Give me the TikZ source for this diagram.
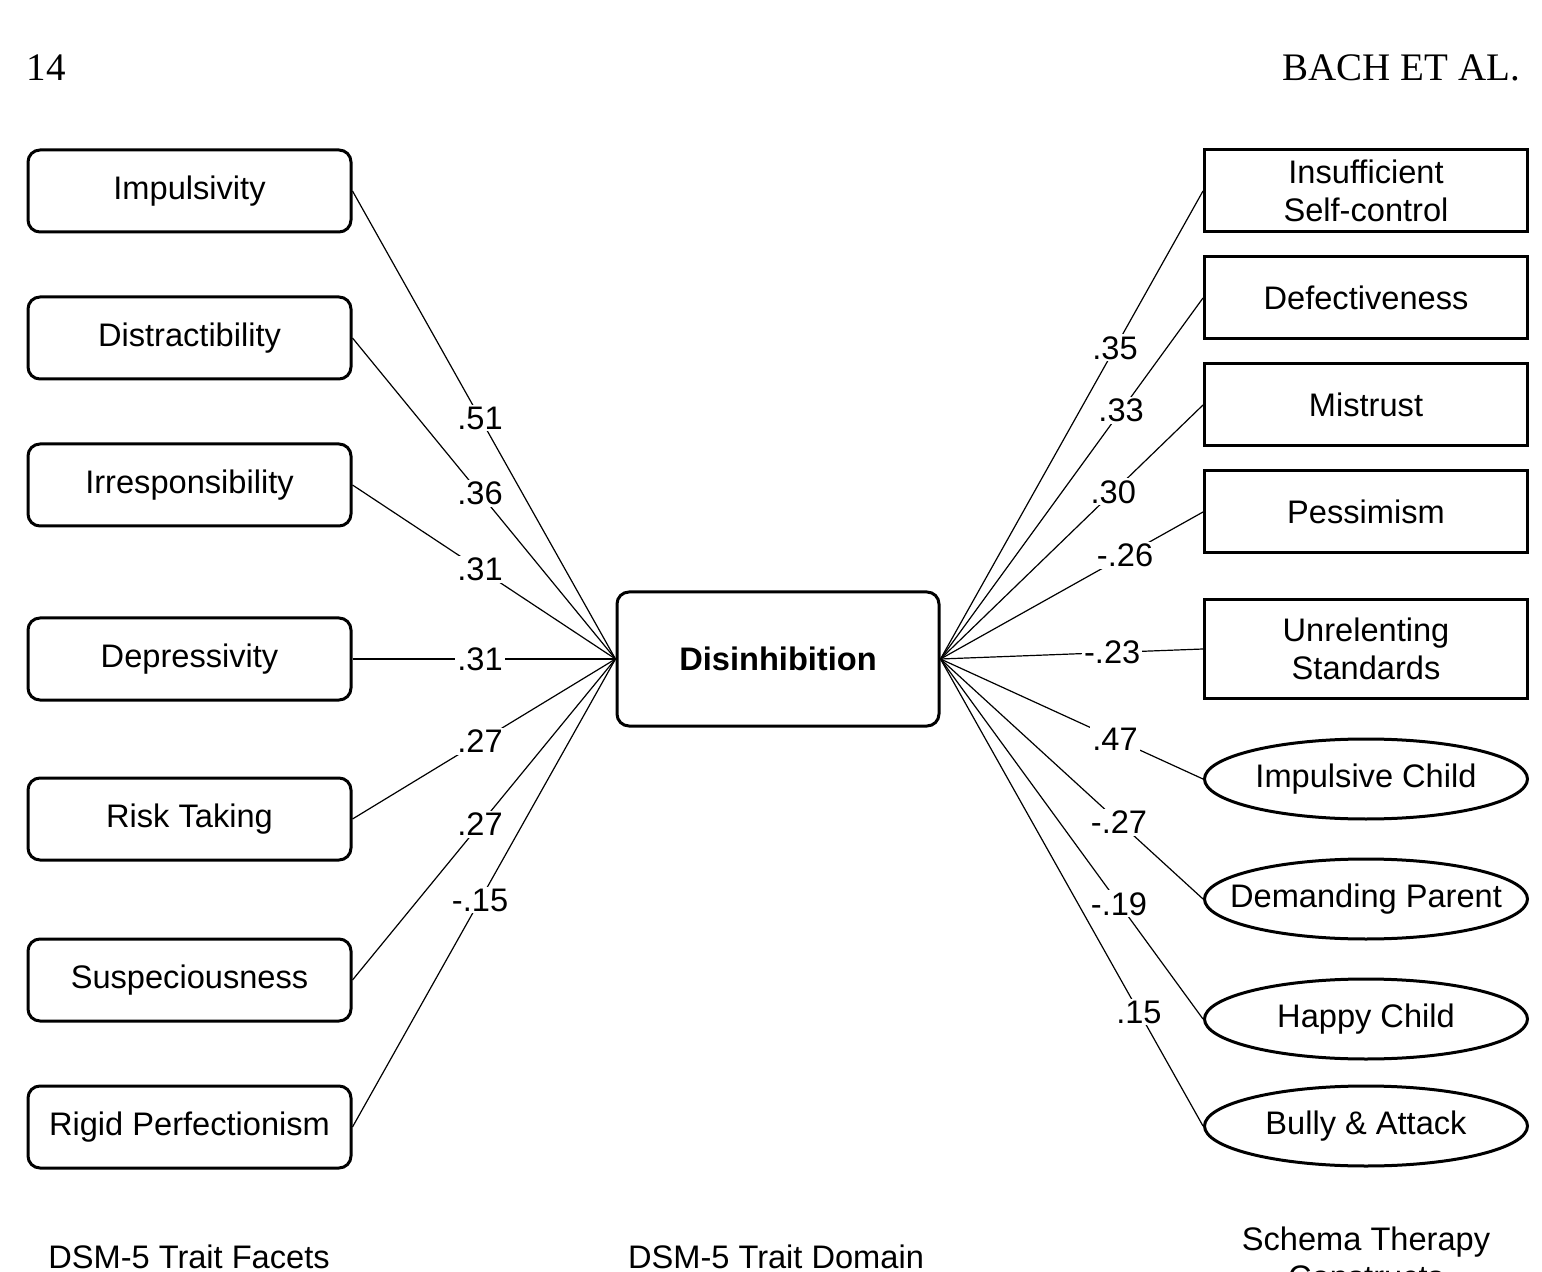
\documentclass[tikz,border=0pt]{standalone}
\usepackage{fontspec}
\setmainfont{Liberation Sans}
\newfontfamily\hdr{Liberation Serif}
\usetikzlibrary{shapes.geometric}
\begin{document}
\begin{tikzpicture}[x=0.5pt,y=-0.5pt,
  font=\fontsize{16.3}{19}\selectfont,
  lbox/.style={draw,line width=1.5pt,rounded corners=6pt,minimum width=161.5pt,minimum height=41pt,align=center,inner sep=0pt},
  rbox/.style={draw,line width=1.5pt,minimum width=161.5pt,minimum height=41pt,align=center,inner sep=0pt},
  ell/.style={draw,line width=1.5pt,ellipse,minimum width=161.5pt,minimum height=40pt,inner xsep=-16pt,inner ysep=0pt},
  ln/.style={line width=0.6pt},
  lab/.style={fill=white,inner sep=1pt},
  head/.style={font=\hdr\fontsize{19.5}{22}\selectfont}]
\useasboundingbox (0,0) rectangle (1542,1272);
\node[head] (pg) at (46,68) {14};
\node[head,anchor=east] (au) at (1527,68) {BACH ET AL.};

\node[lbox] (l1) at (189.5,191) {Impulsivity};
\node[lbox] (l2) at (189.5,338) {Distractibility};
\node[lbox] (l3) at (189.5,485) {Irresponsibility};
\node[lbox] (l4) at (189.5,659) {Depressivity};
\node[lbox] (l5) at (189.5,819) {Risk Taking};
\node[lbox] (l6) at (189.5,980) {Suspeciousness};
\node[lbox] (l7) at (189.5,1127) {Rigid Perfectionism};

\node[lbox,minimum width=161pt,minimum height=67pt] (c) at (778,659) {\bfseries Disinhibition};

\node[rbox] (r1) at (1366,191) {Insufficient\\Self-control};
\node[rbox] (r2) at (1366,298) {Defectiveness};
\node[rbox] (r3) at (1366,405) {Mistrust};
\node[rbox] (r4) at (1366,512) {Pessimism};
\node[rbox,minimum height=49.5pt] (r5) at (1366,649) {Unrelenting\\Standards};
\node[ell] (e1) at (1366,779) {Impulsive Child};
\node[ell] (e2) at (1366,899) {Demanding Parent};
\node[ell] (e3) at (1366,1019) {Happy Child};
\node[ell] (e4) at (1366,1126) {Bully \& Attack};

\draw[ln] (l1.east) -- node[lab,pos=0.485]{.51} (c.west);
\draw[ln] (l2.east) -- node[lab,pos=0.485]{.36} (c.west);
\draw[ln] (l3.east) -- node[lab,pos=0.485]{.31} (c.west);
\draw[ln] (l4.east) -- node[lab,pos=0.485]{.31} (c.west);
\draw[ln] (l5.east) -- node[lab,pos=0.485]{.27} (c.west);
\draw[ln] (l6.east) -- node[lab,pos=0.485]{.27} (c.west);
\draw[ln] (l7.east) -- node[lab,pos=0.485]{-.15} (c.west);

\draw[ln] (c.east) -- node[lab,pos=0.665]{.35} (r1.west);
\draw[ln] (c.east) -- node[lab,pos=0.688]{.33} (r2.west);
\draw[ln] (c.east) -- node[lab,pos=0.658]{.30} (r3.west);
\draw[ln] (c.east) -- node[lab,pos=0.703]{-.26} (r4.west);
\draw[ln] (c.east) -- node[lab,pos=0.654]{-.23} (r5.west);
\draw[ln] (c.east) -- node[lab,pos=0.665]{.47} (e1.west);
\draw[ln] (c.east) -- node[lab,pos=0.68]{-.27} (e2.west);
\draw[ln] (c.east) -- node[lab,pos=0.68]{-.19} (e3.west);
\draw[ln] (c.east) -- node[lab,pos=0.756]{.15} (e4.west);

\node (b1) at (189,1257) {DSM-5 Trait Facets};
\node (b2) at (776,1257) {DSM-5 Trait Domain};
\node[align=center,anchor=north] (b3) at (1366,1220) {Schema Therapy\\Constructs};
\end{tikzpicture}
\end{document}
